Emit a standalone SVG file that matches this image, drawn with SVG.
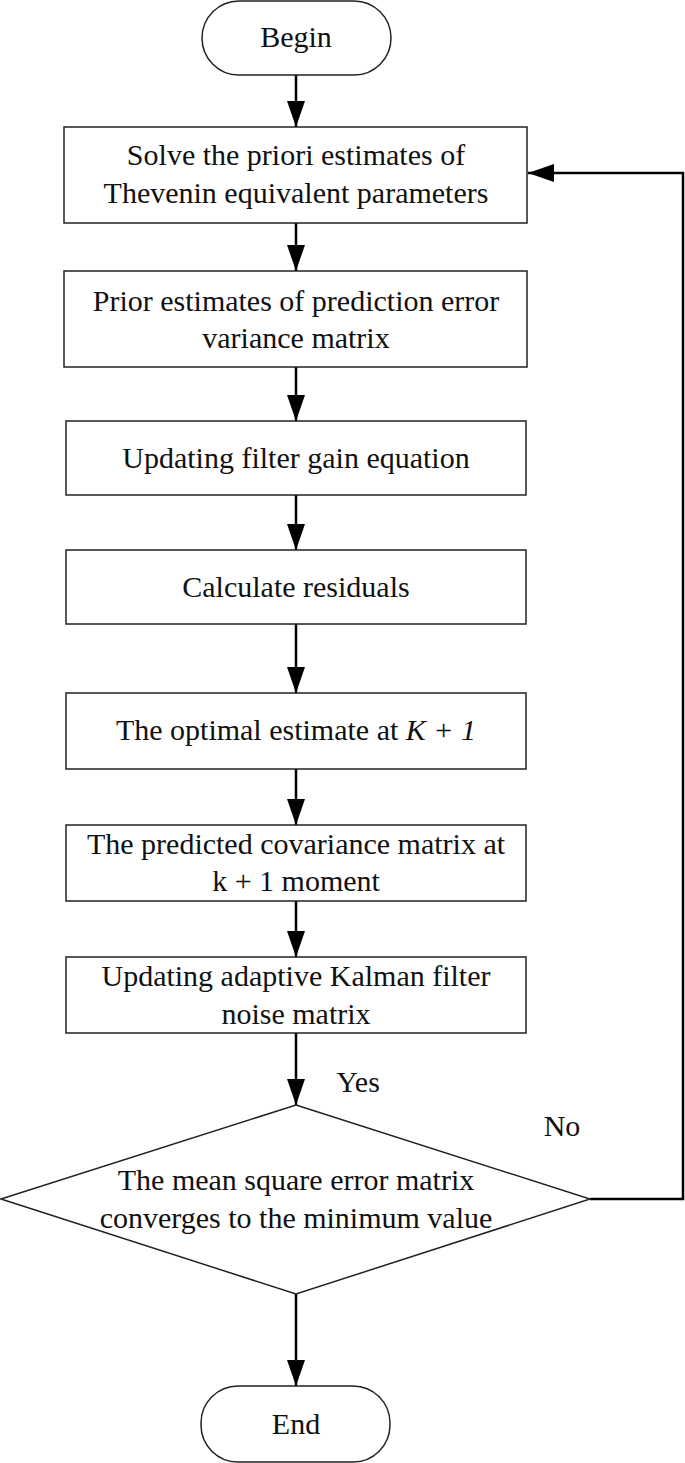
<svg xmlns="http://www.w3.org/2000/svg" width="685" height="1463" viewBox="0 0 685 1463">
<style>
.s{fill:#fff;stroke:#222;stroke-width:1.5}
.t{font-family:"Liberation Serif","Times New Roman","DejaVu Serif",serif;font-size:30px;fill:#111;text-anchor:middle}
.c{fill:none;stroke:#000;stroke-width:2.5}
</style>
<defs><marker id="a" markerWidth="26" markerHeight="18" refX="26" refY="9" orient="auto" markerUnits="userSpaceOnUse" viewBox="0 0 26 18"><path d="M0,0L26,9L0,18z" fill="#000"/></marker></defs>
<rect width="685" height="1463" fill="#fff"/>
<g id="connectors">
<path class="c" d="M296,75V127" marker-end="url(#a)"/>
<path class="c" d="M296,223V271" marker-end="url(#a)"/>
<path class="c" d="M296,367V421" marker-end="url(#a)"/>
<path class="c" d="M296,495V550" marker-end="url(#a)"/>
<path class="c" d="M296,624V693" marker-end="url(#a)"/>
<path class="c" d="M296,769V825" marker-end="url(#a)"/>
<path class="c" d="M296,901V957" marker-end="url(#a)"/>
<path class="c" d="M296,1033V1105" marker-end="url(#a)"/>
<path class="c" d="M296,1294V1386" marker-end="url(#a)"/>
<path class="c" d="M590,1199H683V173H528" marker-end="url(#a)"/>
<text class="t" x="358" y="1092">Yes</text>
<text class="t" x="562" y="1136">No</text>
</g>
<g id="begin"><rect class="s" x="202" y="1" width="189" height="74" rx="37"/><text class="t" x="296" y="47">Begin</text></g>
<g id="n1"><rect class="s" x="64" y="127" width="463" height="96"/><text class="t" x="296" y="165">Solve the priori estimates of</text><text class="t" x="296" y="203">Thevenin equivalent parameters</text></g>
<g id="n2"><rect class="s" x="64" y="271" width="463" height="96"/><text class="t" x="296" y="311">Prior estimates of prediction error</text><text class="t" x="296" y="348">variance matrix</text></g>
<g id="n3"><rect class="s" x="66" y="421" width="460" height="74"/><text class="t" x="296" y="468">Updating filter gain equation</text></g>
<g id="n4"><rect class="s" x="66" y="550" width="460" height="74"/><text class="t" x="296" y="597">Calculate residuals</text></g>
<g id="n5"><rect class="s" x="66" y="693" width="460" height="76"/><text class="t" x="296" y="740">The optimal estimate at  <tspan font-style="italic">K + 1</tspan></text></g>
<g id="n6"><rect class="s" x="66" y="825" width="460" height="76"/><text class="t" x="296" y="854">The predicted covariance matrix at</text><text class="t" x="296" y="891">k + 1 moment</text></g>
<g id="n7"><rect class="s" x="66" y="957" width="460" height="76"/><text class="t" x="296" y="986">Updating adaptive Kalman filter</text><text class="t" x="296" y="1024">noise matrix</text></g>
<g id="d"><polygon class="s" points="296,1105 590,1199 296,1294 1,1199"/><text class="t" x="296" y="1190">The mean square error matrix</text><text class="t" x="296" y="1228">converges to the minimum value</text></g>
<g id="end"><rect class="s" x="201" y="1386" width="189" height="76" rx="37"/><text class="t" x="296" y="1434">End</text></g>
</svg>
